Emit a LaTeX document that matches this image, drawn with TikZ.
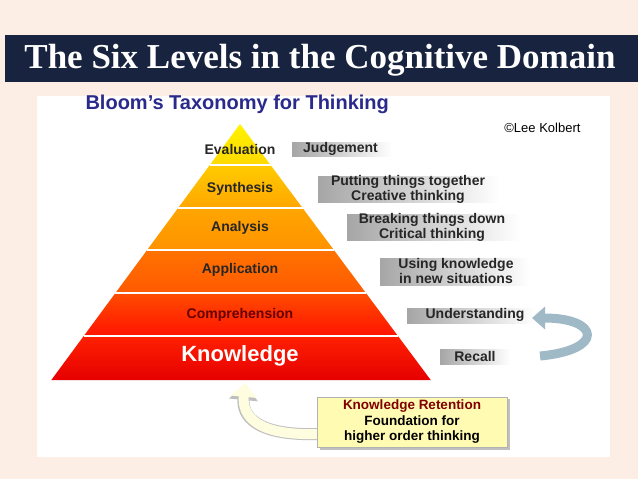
\documentclass[tikz,border=0pt]{standalone}
\usepackage{fontspec}
\setmainfont{Liberation Sans}
\newfontfamily\titlefont{Liberation Serif}
\usetikzlibrary{arrows.meta,shadows}
\definecolor{bgpink}{HTML}{FCEEE4}
\definecolor{navy}{HTML}{17233F}
\definecolor{bloomblue}{HTML}{2A2A8C}
\tikzset{
  lvl/.style={font=\bfseries\fontsize{14}{15}\selectfont,text=black!85},
  desc/.style={font=\bfseries\fontsize{14}{15}\selectfont,text=black!85,align=center,inner sep=1pt},
  gbox/.style={left color=black!35,right color=white,draw=none},
}
\begin{document}
\begin{tikzpicture}[x=1pt,y=-1pt]
\useasboundingbox (0,0) rectangle (638,479);
\fill[bgpink] (0,0) rectangle (638,479);
\fill[navy] (5,35) rectangle (638,82);
\node[text=white,font=\titlefont\bfseries\fontsize{35}{38}\selectfont] (title) at (320,60) {The Six Levels in the Cognitive Domain};
\fill[white] (37,96) rectangle (610,457);
\node[text=bloomblue,font=\bfseries\fontsize{20}{22}\selectfont,anchor=west] (bt) at (82,104) {Bloom's Taxonomy for Thinking};
\node[font=\fontsize{13}{14}\selectfont,anchor=east] (copy) at (584,128) {©Lee Kolbert};
\def\ax{240}\def\ay{124}
\foreach \ya/\yb/\ca/\cb in {124/165/yellow!90!orange/yellow!70!orange, 165/208/yellow!60!orange/orange!70!yellow, 208/250/orange!70!yellow/orange!85!yellow, 250/293/orange!90!red/orange!70!red, 293/336/orange!60!red/red!85!orange, 336/380/red!75!orange/red!90!black}{
  \pgfmathsetmacro\la{\ax-(\ya-\ay)*0.737}
  \pgfmathsetmacro\ra{\ax+(\ya-\ay)*0.745}
  \pgfmathsetmacro\lb{\ax-(\yb-\ay)*0.737}
  \pgfmathsetmacro\rb{\ax+(\yb-\ay)*0.745}
  \shade[top color=\ca,bottom color=\cb] (\la,\ya) -- (\ra,\ya) -- (\rb,\yb) -- (\lb,\yb) -- cycle;
}
\foreach \y in {165,208,250,293,336}{
  \pgfmathsetmacro\l{\ax-(\y-\ay)*0.737}
  \pgfmathsetmacro\r{\ax+(\y-\ay)*0.745}
  \draw[white,line width=1.5pt] (\l,\y) -- (\r,\y);
}
\node[lvl] (ev) at (240,149) {Evaluation};
\node[lvl] (sy) at (240,189) {Synthesis};
\node[lvl] (an) at (240,228) {Analysis};
\node[lvl] (ap) at (240,270) {Application};
\node[lvl,text=red!40!black] (co) at (240,315) {Comprehension};
\node[font=\bfseries\fontsize{22}{24}\selectfont,text=white] (kn) at (240,356) {Knowledge};
\shade[gbox] (292,142) rectangle (392,156);
\node[desc,anchor=west] (d1) at (302,149) {Judgement};
\shade[gbox] (318,176) rectangle (500,202);
\node[desc] (d2) at (408,189) {Putting things together\\Creative thinking};
\shade[gbox] (347,214) rectangle (520,240);
\node[desc] (d3) at (432,227) {Breaking things down\\Critical thinking};
\shade[gbox] (380,258) rectangle (530,285);
\node[desc] (d4) at (456,271) {Using knowledge\\in new situations};
\shade[gbox] (407,308) rectangle (535,323);
\node[desc] (d5) at (475,315) {Understanding};
\shade[gbox] (440,349) rectangle (510,364);
\node[desc] (d6) at (475,356) {Recall};
\coordinate (bs) at (540,356);
\coordinate (be) at (532,318);
\draw[line width=9pt,draw=cyan!30!gray!70,-{Triangle[length=13pt,width=22pt]}] (bs) .. controls (605,350) and (600,318) .. (be);
\coordinate (kt) at (245,384);
\coordinate (ks) at (318,434);
\draw[line width=12pt,draw=gray!50,-{Triangle[length=16pt,width=28pt]}] (ks) .. controls (255,436) and (242,415) .. (kt);
\draw[line width=10pt,draw=yellow!12,-{Triangle[length=14pt,width=25pt]}] (ks) .. controls (255,436) and (242,415) .. ([yshift=1.2pt]kt);
\node[draw=gray!60,fill=yellow!30,drop shadow,align=center,font=\bfseries\fontsize{13.5}{15.5}\selectfont,minimum width=190pt,minimum height=48pt] (kr) at (412,422)
 {\textcolor{red!50!black}{Knowledge Retention}\\Foundation for\\higher order thinking};
\end{tikzpicture}
\end{document}
